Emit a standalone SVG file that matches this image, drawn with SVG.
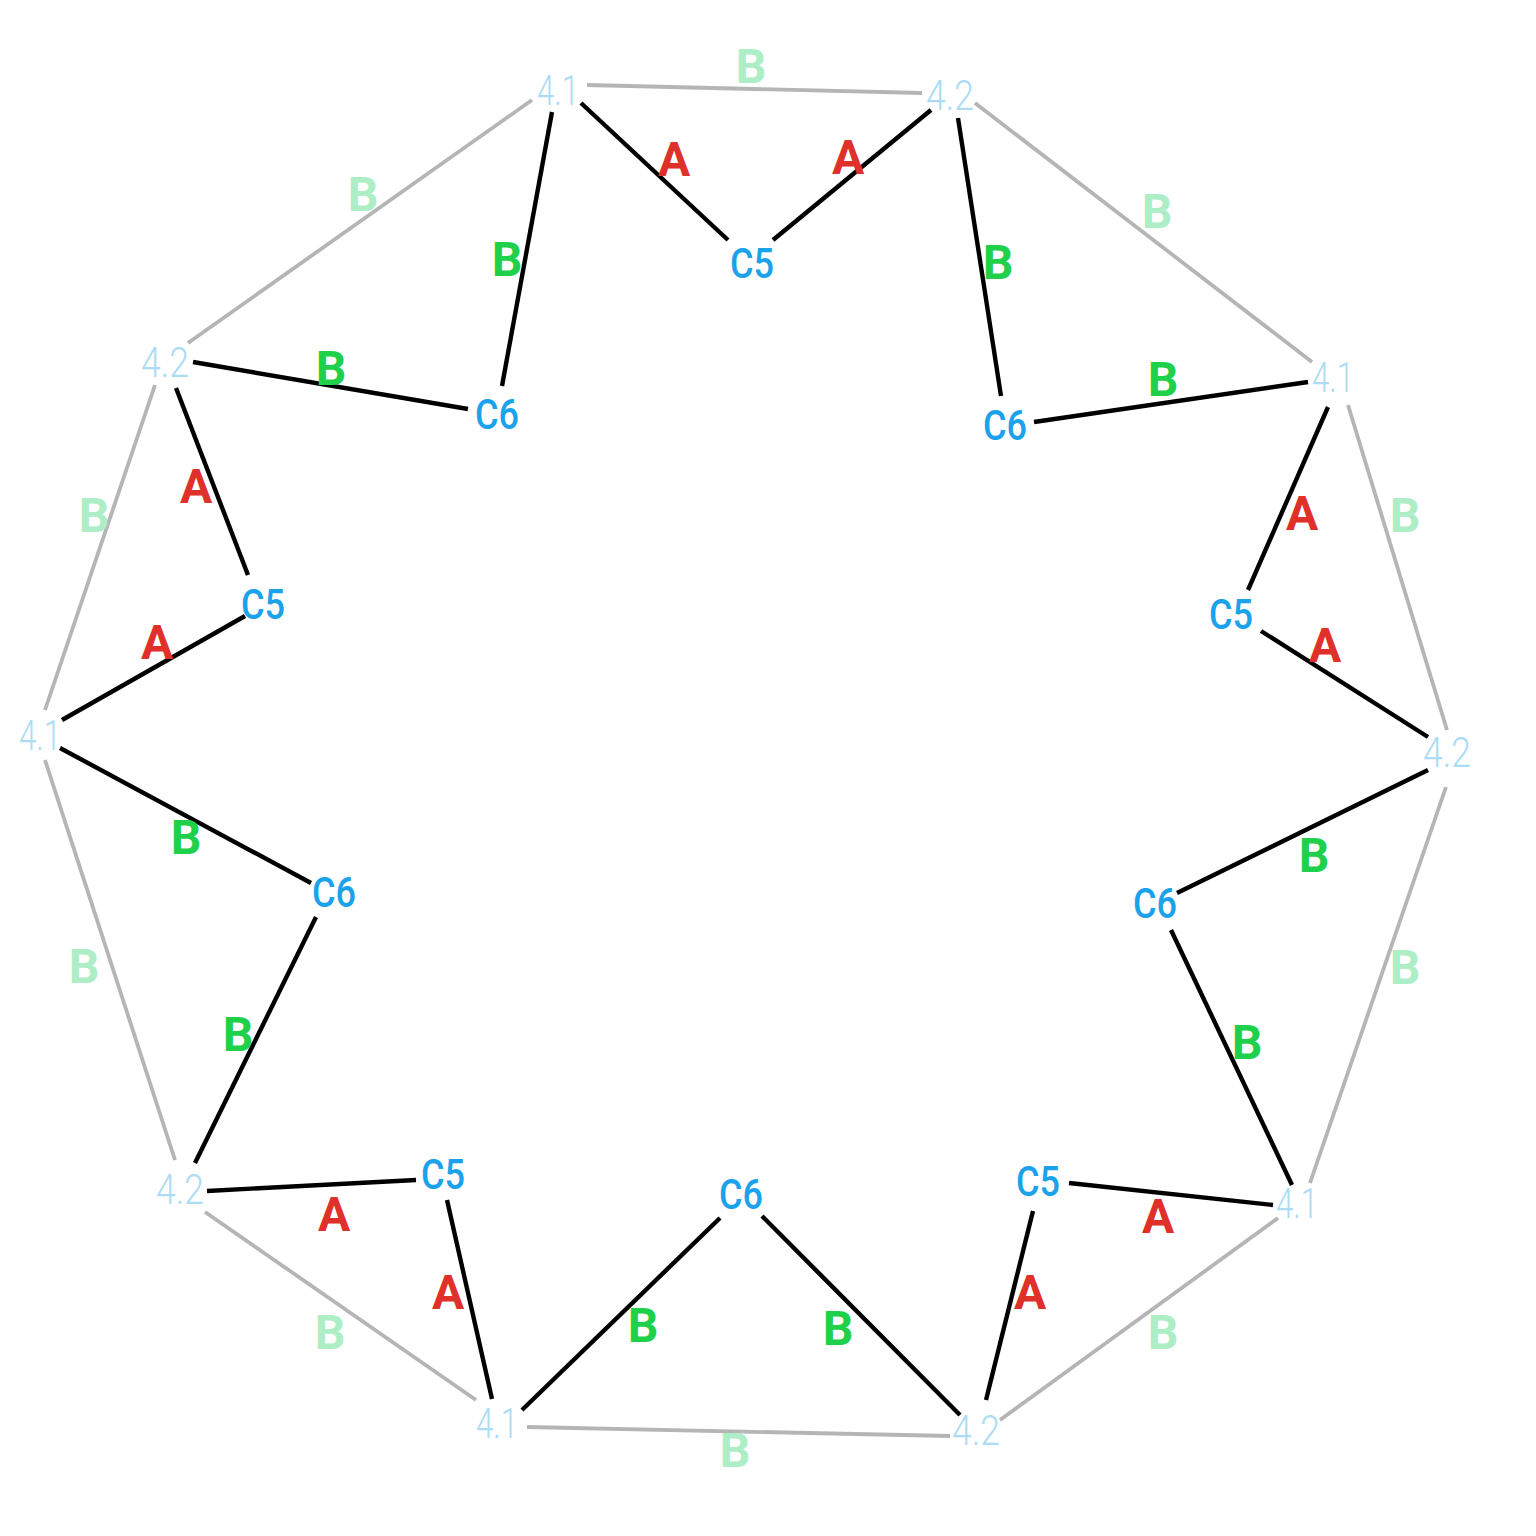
<svg xmlns="http://www.w3.org/2000/svg" width="1536" height="1536" viewBox="0 0 1536 1536">
<style>
.g{stroke:#b5b5b5;stroke-width:3.8;stroke-linecap:butt;fill:none}
.k{stroke:#000;stroke-width:4.4;stroke-linecap:butt;fill:none}
.o{font-family:Roboto,"Liberation Sans",sans-serif;font-weight:300;font-size:43px;fill:#acdcf4;text-anchor:middle}
.c{font-family:Roboto,"Liberation Sans",sans-serif;font-weight:500;font-size:43px;fill:#1ba2ea;text-anchor:middle}
.a{font-family:Roboto,"Liberation Sans",sans-serif;font-weight:700;font-size:48px;fill:#e0302a;text-anchor:middle}
.b{font-family:Roboto,"Liberation Sans",sans-serif;font-weight:700;font-size:48px;fill:#1fd14a;text-anchor:middle}
.lb{font-family:Roboto,"Liberation Sans",sans-serif;font-weight:700;font-size:48px;fill:#aeeec6;text-anchor:middle}
</style>
<rect width="1536" height="1536" fill="#fff"/>
<g id="connectors">
<line class="g" x1="587" y1="85" x2="922" y2="93"/>
<line class="g" x1="975" y1="103" x2="1312" y2="362"/>
<line class="g" x1="1348" y1="405" x2="1447" y2="730"/>
<line class="g" x1="1446" y1="787" x2="1310" y2="1183"/>
<line class="g" x1="1278" y1="1218" x2="1000" y2="1420"/>
<line class="g" x1="950" y1="1436" x2="527" y2="1427"/>
<line class="g" x1="476" y1="1400" x2="205" y2="1212"/>
<line class="g" x1="175" y1="1160" x2="45" y2="760"/>
<line class="g" x1="45" y1="710" x2="155" y2="385"/>
<line class="g" x1="188" y1="343" x2="532" y2="100"/>
<line class="k" x1="581" y1="103" x2="728" y2="240"/>
<line class="k" x1="931" y1="110" x2="773" y2="240"/>
<line class="k" x1="552" y1="112" x2="502" y2="386"/>
<line class="k" x1="193" y1="362" x2="468" y2="409"/>
<line class="k" x1="958" y1="118" x2="1001" y2="396"/>
<line class="k" x1="1308" y1="382" x2="1034" y2="422"/>
<line class="k" x1="1328" y1="407" x2="1248" y2="590"/>
<line class="k" x1="1428" y1="737" x2="1261" y2="631"/>
<line class="k" x1="1428" y1="770" x2="1177" y2="893"/>
<line class="k" x1="1292" y1="1185" x2="1171" y2="930"/>
<line class="k" x1="1273" y1="1205" x2="1069" y2="1183"/>
<line class="k" x1="986" y1="1400" x2="1033" y2="1211"/>
<line class="k" x1="960" y1="1415" x2="762" y2="1216"/>
<line class="k" x1="522" y1="1410" x2="720" y2="1218"/>
<line class="k" x1="492" y1="1399" x2="447" y2="1200"/>
<line class="k" x1="207" y1="1191" x2="416" y2="1180"/>
<line class="k" x1="195" y1="1163" x2="316" y2="917"/>
<line class="k" x1="60" y1="748" x2="311" y2="883"/>
<line class="k" x1="62" y1="720" x2="245" y2="616"/>
<line class="k" x1="176" y1="388" x2="248" y2="575"/>
<text class="lb" x="751" y="83">B</text>
<text class="lb" x="1157" y="228">B</text>
<text class="lb" x="1405" y="532">B</text>
<text class="lb" x="1405" y="984">B</text>
<text class="lb" x="1163" y="1349">B</text>
<text class="lb" x="735" y="1467">B</text>
<text class="lb" x="330" y="1349">B</text>
<text class="lb" x="84" y="983">B</text>
<text class="lb" x="94" y="532">B</text>
<text class="lb" x="363" y="211">B</text>
<text class="a" x="674" y="176">A</text>
<text class="a" x="848" y="174">A</text>
<text class="b" x="507" y="276">B</text>
<text class="b" x="331" y="385">B</text>
<text class="b" x="998" y="279">B</text>
<text class="b" x="1163" y="396">B</text>
<text class="a" x="1302" y="530">A</text>
<text class="a" x="1325" y="662">A</text>
<text class="b" x="1314" y="872">B</text>
<text class="b" x="1247" y="1059">B</text>
<text class="a" x="1158" y="1233">A</text>
<text class="a" x="1030" y="1309">A</text>
<text class="b" x="838" y="1345">B</text>
<text class="b" x="643" y="1342">B</text>
<text class="a" x="448" y="1309">A</text>
<text class="a" x="334" y="1231">A</text>
<text class="b" x="238" y="1051">B</text>
<text class="b" x="186" y="854">B</text>
<text class="a" x="157" y="659">A</text>
<text class="a" x="196" y="503">A</text>
</g>
<g id="n1"><text class="o" x="558" y="105" textLength="42" lengthAdjust="spacingAndGlyphs">4.1</text></g>
<g id="n2"><text class="o" x="950" y="110" textLength="48" lengthAdjust="spacingAndGlyphs">4.2</text></g>
<g id="n3"><text class="o" x="1333" y="392" textLength="42" lengthAdjust="spacingAndGlyphs">4.1</text></g>
<g id="n4"><text class="o" x="1447" y="767" textLength="48" lengthAdjust="spacingAndGlyphs">4.2</text></g>
<g id="n5"><text class="o" x="1297" y="1218" textLength="42" lengthAdjust="spacingAndGlyphs">4.1</text></g>
<g id="n6"><text class="o" x="976" y="1445" textLength="48" lengthAdjust="spacingAndGlyphs">4.2</text></g>
<g id="n7"><text class="o" x="497" y="1438" textLength="42" lengthAdjust="spacingAndGlyphs">4.1</text></g>
<g id="n8"><text class="o" x="180" y="1204" textLength="48" lengthAdjust="spacingAndGlyphs">4.2</text></g>
<g id="n9"><text class="o" x="40" y="750" textLength="42" lengthAdjust="spacingAndGlyphs">4.1</text></g>
<g id="n10"><text class="o" x="165" y="377" textLength="48" lengthAdjust="spacingAndGlyphs">4.2</text></g>
<g id="c1"><text class="c" x="752" y="278" textLength="44" lengthAdjust="spacingAndGlyphs">C5</text></g>
<g id="c2"><text class="c" x="1005" y="440" textLength="44" lengthAdjust="spacingAndGlyphs">C6</text></g>
<g id="c3"><text class="c" x="1231" y="629" textLength="44" lengthAdjust="spacingAndGlyphs">C5</text></g>
<g id="c4"><text class="c" x="1155" y="918" textLength="44" lengthAdjust="spacingAndGlyphs">C6</text></g>
<g id="c5"><text class="c" x="1038" y="1196" textLength="44" lengthAdjust="spacingAndGlyphs">C5</text></g>
<g id="c6"><text class="c" x="741" y="1209" textLength="44" lengthAdjust="spacingAndGlyphs">C6</text></g>
<g id="c7"><text class="c" x="443" y="1189" textLength="44" lengthAdjust="spacingAndGlyphs">C5</text></g>
<g id="c8"><text class="c" x="334" y="907" textLength="44" lengthAdjust="spacingAndGlyphs">C6</text></g>
<g id="c9"><text class="c" x="263" y="619" textLength="44" lengthAdjust="spacingAndGlyphs">C5</text></g>
<g id="c10"><text class="c" x="497" y="429" textLength="44" lengthAdjust="spacingAndGlyphs">C6</text></g>
</svg>
